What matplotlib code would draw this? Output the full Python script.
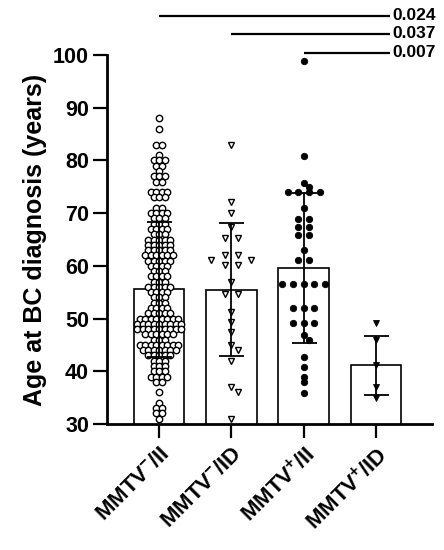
import numpy as np
import matplotlib
matplotlib.use("Agg")
import matplotlib.pyplot as plt

plt.rcParams['font.family'] = ['Liberation Sans', 'DejaVu Sans']
plt.rcParams['font.weight'] = 'bold'
plt.rcParams['mathtext.fontset'] = 'custom'
plt.rcParams['mathtext.rm'] = 'Liberation Sans:bold'
plt.rcParams['mathtext.bf'] = 'Liberation Sans:bold'
plt.rcParams['mathtext.default'] = 'rm'

# ---------------- data ----------------
categories = [r'MMTV$^{-}$/II', r'MMTV$^{-}$/ID', r'MMTV$^{+}$/II', r'MMTV$^{+}$/ID']

group1 = [88, 86, 83, 83, 81, 80, 80, 80, 79, 79, 78, 77, 77, 77, 76, 76,
          74, 74, 74, 74, 73, 73, 73, 71, 71, 70, 70, 70, 70, 69, 69, 69,
          68, 68, 68, 67, 67, 67, 67, 66, 66, 66, 65, 65, 65, 65, 65,
          64, 64, 64, 64, 64, 63, 63, 63, 63, 63, 62, 62, 62, 62, 62, 62,
          61, 61, 61, 61, 61, 60, 60, 60, 60, 59, 59, 59, 58, 58, 58, 58,
          57, 57, 57, 56, 56, 56, 56, 56, 55, 55, 55, 55, 54, 54, 54,
          53, 53, 53, 52, 52, 52, 52, 51, 51, 51, 51, 51,
          50, 50, 50, 50, 50, 50, 50, 50, 49, 49, 49, 49, 49, 49, 49, 49, 49,
          48, 48, 48, 48, 48, 48, 48, 48, 48, 47, 47, 47, 47, 47, 47,
          46, 46, 46, 45, 45, 45, 45, 45, 45, 45, 45, 44, 44, 44, 44, 44, 44, 44,
          43, 43, 43, 43, 43, 42, 42, 42, 41, 41, 41, 40, 40, 40,
          39, 39, 39, 39, 38, 38, 36, 34, 33, 33, 32, 32, 31]

group2 = [83.0, 72.1, 70.0, 67.4, 65.3, 65.3, 62.1, 62.1, 61.1, 61.1, 60.2, 60.2,
          57.0, 54.6, 54.6, 51.3, 49.4, 47.5, 45.0, 44.0, 42.0, 37.0, 36.0, 31.0]

group3 = [98.9, 80.9, 75.7, 75.0, 74.0, 74.0, 74.0, 74.0, 71.0, 68.9, 68.9,
          67.4, 67.4, 65.9, 65.9, 63.0, 61.1, 61.1, 56.5, 56.5, 56.5, 56.5, 56.5,
          52.0, 52.0, 52.0, 49.2, 49.2, 49.2, 46.9, 46.0, 42.7, 40.8, 39.0, 38.0, 35.9]

group4 = [49.2, 46.0, 41.2, 37.0, 35.0]

bar_means = [55.6, 55.5, 59.6, 41.1]
bar_sds = [12.8, 12.6, 14.2, 5.6]

sig_pvalues = ['0.024', '0.037', '0.007']
sig_start_group = [0, 1, 2]
sig_levels = [107.4, 104.0, 100.4]

yticks = [30, 40, 50, 60, 70, 80, 90, 100]

# ---------------- layout ----------------
W, H = 444, 550
fig = plt.figure(figsize=(W / 100, H / 100), dpi=100)
ax_l, ax_r, ax_b, ax_t = 107, 432, 424, 55
ax = fig.add_axes([ax_l / W, 1 - ax_b / H, (ax_r - ax_l) / W, (ax_b - ax_t) / H])
xlim = (-0.72, 3.775)
ylim = (30, 100)
ax.set_xlim(*xlim)
ax.set_ylim(*ylim)
xs_px = (ax_r - ax_l) / (xlim[1] - xlim[0])   # px per x unit
ys_px = (ax_b - ax_t) / (ylim[1] - ylim[0])   # px per y unit


def swarm(vals, spacing, min_dist):
    vals = np.asarray(vals, dtype=float)
    offs = np.zeros(len(vals))
    keys = np.round(vals).astype(int)
    placed = []
    for k in sorted(set(keys), reverse=True):
        idx = np.where(keys == k)[0]
        n = len(idx)
        base = (np.arange(n) - (n - 1) / 2) * spacing
        if n == 1:
            cands = [np.array([0.0])]
            for j in range(1, 6):
                cands += [np.array([j * spacing / 2]), np.array([-j * spacing / 2])]
        else:
            cands = [base + np.sign(base) * j * spacing for j in range(6)]
        chosen = cands[0]
        if min_dist > 0:
            for c in cands:
                ok = True
                for (px, py) in placed:
                    for ci, ii in zip(c, idx):
                        d = np.hypot(ci - px, (vals[ii] - py) * ys_px)
                        if d < min_dist:
                            ok = False
                            break
                    if not ok:
                        break
                if ok:
                    chosen = c
                    break
        for ci, ii in zip(chosen, idx):
            offs[ii] = ci
            placed.append((ci, vals[ii]))
    return offs / xs_px


x = np.arange(len(categories))
ax.bar(x, bar_means, width=0.7, color='white', edgecolor='black', linewidth=1.2, zorder=1)

groups = [group1, group2, group3, group4]
styles = [
    dict(marker='o', ms=4.6, mfc='white', mec='black', mew=1.0, spacing=5.5, md=0),
    dict(marker='v', ms=4.8, mfc='white', mec='black', mew=1.0, spacing=13.4, md=6.0),
    dict(marker='o', ms=4.6, mfc='black', mec='black', mew=0.6, spacing=10.7, md=5.0),
    dict(marker='v', ms=5.0, mfc='black', mec='black', mew=0.6, spacing=10.0, md=6.0),
]
for i, (g, st) in enumerate(zip(groups, styles)):
    offs = swarm(g, st['spacing'], st['md'])
    ax.plot(x[i] + offs, g, linestyle='none', marker=st['marker'], ms=st['ms'],
            mfc=st['mfc'], mec=st['mec'], mew=st['mew'], zorder=3, clip_on=False)

ax.errorbar(x, bar_means, yerr=bar_sds, fmt='none', ecolor='black', elinewidth=1.3,
            capsize=9, capthick=1.3, zorder=4)

# significance lines
end_x = 3.19
for s, lvl, p in zip(sig_start_group, sig_levels, sig_pvalues):
    ax.plot([x[s], end_x], [lvl, lvl], color='black', lw=1.6, clip_on=False, solid_capstyle='butt')
    ax.text(end_x + 0.04, lvl, p, ha='left', va='center', fontsize=12.5,
            fontweight='bold', clip_on=False)

# axes styling
for sp in ['top', 'right']:
    ax.spines[sp].set_visible(False)
for sp in ['left', 'bottom']:
    ax.spines[sp].set_linewidth(2.0)
ax.set_yticks(yticks)
ax.set_yticklabels([str(t) for t in yticks], fontsize=15.5, fontweight='bold')
ax.set_xticks(x)
ax.set_xticklabels(categories, rotation=45, ha='right', rotation_mode='anchor',
                   fontsize=16, fontweight='bold')
ax.tick_params(axis='both', length=10, width=1.6, color='black')
ax.tick_params(axis='y', pad=3)
ax.tick_params(axis='x', pad=4)
ax.set_ylabel('Age at BC diagnosis (years)', fontsize=18, fontweight='bold', labelpad=4)

fig.savefig('out.png', dpi=100)
